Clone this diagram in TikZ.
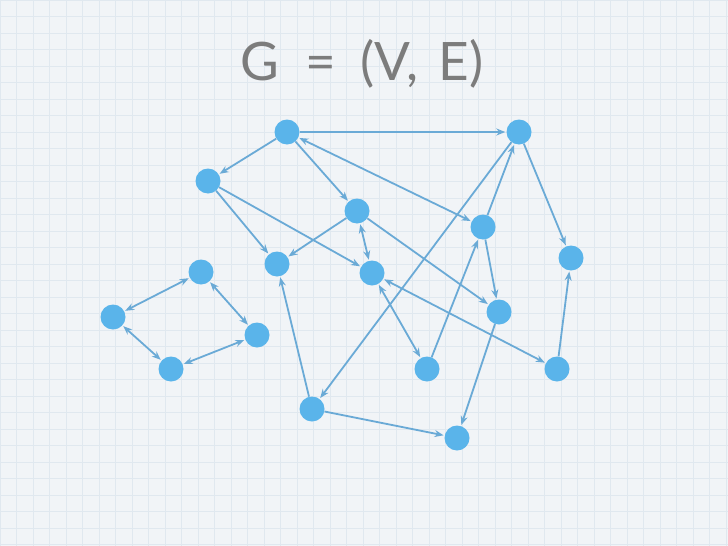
\documentclass[tikz,border=0pt]{standalone}
\usepackage{fontspec}
\setmainfont{Lato}
\usetikzlibrary{arrows.meta}
\definecolor{bgc}{HTML}{F1F4F7}
\definecolor{gridc}{HTML}{E0E8EF}
\definecolor{nodec}{HTML}{5AB4EA}
\definecolor{edgec}{HTML}{6AAAD6}
\definecolor{titlec}{HTML}{7C7C7C}
\begin{document}
\begin{tikzpicture}[x=1pt,y=-1pt,
  vtx/.style={circle,fill=nodec,minimum size=25pt,inner sep=0pt},
  edge/.style={draw=edgec,line width=1.8pt,-{Stealth[length=9pt,width=7pt]},shorten >=1pt},
  bedge/.style={draw=edgec,line width=1.8pt,{Stealth[length=9pt,width=7pt]}-{Stealth[length=9pt,width=7pt]},shorten >=1pt,shorten <=1pt}]
\fill[bgc] (0,0) rectangle (728,546);
\useasboundingbox (0,0) rectangle (728,546);
\draw[gridc,line width=0.5pt,step=16.5pt] (0,0) grid (728,546);
\node[text=titlec,font=\fontsize{53}{60}\selectfont] (title) at (362,64) {G\hspace{0.5em}=\hspace{0.45em}(V,\hspace{0.38em}E)};
\node[vtx] (A) at (287,132) {};
\node[vtx] (B) at (519,132) {};
\node[vtx] (C) at (208,181) {};
\node[vtx] (D) at (357,211) {};
\node[vtx] (E) at (483,227) {};
\node[vtx] (F) at (571,258) {};
\node[vtx] (G) at (277,264) {};
\node[vtx] (H) at (372,273) {};
\node[vtx] (I) at (201,272) {};
\node[vtx] (J) at (113,317) {};
\node[vtx] (K) at (257,335) {};
\node[vtx] (L) at (499,312) {};
\node[vtx] (M) at (171,369) {};
\node[vtx] (N) at (427,369) {};
\node[vtx] (O) at (557,369) {};
\node[vtx] (P) at (312,409) {};
\node[vtx] (Q) at (457,438) {};
\draw[edge] (A) -- (B);
\draw[edge] (A) -- (C);
\draw[edge] (A) -- (D);
\draw[bedge] (A) -- (E);
\draw[edge] (C) -- (G);
\draw[edge] (C) -- (H);
\draw[edge] (D) -- (G);
\draw[bedge] (D) -- (H);
\draw[edge] (D) -- (L);
\draw[edge] (B) -- (F);
\draw[edge] (E) -- (B);
\draw[edge] (B) -- (P);
\draw[edge] (N) -- (E);
\draw[edge] (E) -- (L);
\draw[edge] (L) -- (Q);
\draw[bedge] (H) -- (N);
\draw[bedge] (H) -- (O);
\draw[edge] (O) -- (F);
\draw[edge] (P) -- (G);
\draw[edge] (P) -- (Q);
\draw[bedge] (I) -- (J);
\draw[bedge] (I) -- (K);
\draw[bedge] (J) -- (M);
\draw[bedge] (M) -- (K);
\end{tikzpicture}
\end{document}
